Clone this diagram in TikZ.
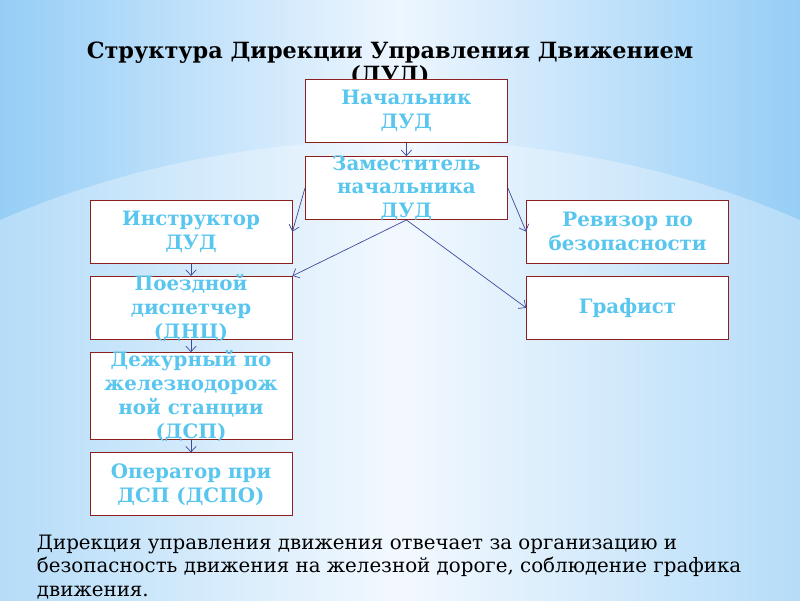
\documentclass[tikz,border=0pt]{standalone}
\usepackage{fontspec}
\setmainfont{DejaVu Serif}
\usepackage{xcolor}
\definecolor{skyedge}{RGB}{150,206,246}
\definecolor{skymid}{RGB}{238,246,255}
\definecolor{boxline}{RGB}{140,32,32}
\definecolor{boxtxt}{RGB}{88,198,238}
\definecolor{linkcol}{RGB}{64,74,156}
\usetikzlibrary{arrows.meta,positioning}

\begin{document}
\begin{tikzpicture}[scale=1.0,
	box/.style={draw=boxline, fill=white, line width=0.6pt, minimum width=5.05cm, minimum height=1.575cm},
	boxtext/.style={text=boxtxt, font=\fontsize{14.1}{16.9}\selectfont\bfseries, align=center},
	link/.style={draw=linkcol, line width=0.5pt, -{Straight Barb[length=1.4mm,width=2.6mm]}}]

	% ---------- background: bluish slide with a pale dome
	\useasboundingbox (0,0) rectangle (20,15);
	\shade[left color=skyedge, right color=skyedge, middle color=skymid] (0,0) rectangle (20,15);
	\fill[white, opacity=0.3] (10,-2.5) ellipse (19.4cm and 14cm);

	% ---------- title (second line is partly covered by the top box)
	\node[font=\fontsize{15.9}{17.2}\selectfont\bfseries, align=center] (title) at (9.75,13.4)
		{Структура Дирекции Управления Движением\\(ДУД)};

	% ---------- boxes
	\node[box, label={[boxtext]center:Начальник\\ДУД}] (nach) at (10.16,12.225) {};
	\node[box, below=0.33cm of nach, label={[boxtext]center:Заместитель\\начальника\\ДУД}] (zam) {};

	\node[box, label={[boxtext]center:Инструктор\\ДУД}] (instr) at (4.775,9.21) {};
	\node[box, below=0.31cm of instr, label={[boxtext]center:Поездной\\диспетчер\\(ДНЦ)}] (poezd) {};
	\node[box, minimum height=2.175cm, below=0.31cm of poezd,
		label={[boxtext]center:Дежурный по\\железнодорож\\ной станции\\(ДСП)}] (dezh) {};
	\node[box, below=0.31cm of dezh, label={[boxtext]center:Оператор при\\ДСП (ДСПО)}] (oper) {};

	\node[box, label={[boxtext]center:Ревизор по\\безопасности}] (rev) at (15.69,9.21) {};
	\node[box, below=0.31cm of rev, label={[boxtext]center:Графист}] (graf) {};

	% ---------- links
	\draw[link] (nach) -- (zam);
	\draw[link] (zam.west) -- (instr.east);
	\draw[link] (zam.east) -- (rev.west);
	\draw[link] (zam.south) -- (poezd.north east);
	\draw[link] (zam.south) -- (graf.west);
	\draw[link] (instr) -- (poezd);
	\draw[link] (poezd) -- (dezh);
	\draw[link] (dezh) -- (oper);

	% ---------- note under the chart
	\node[anchor=west, align=left, font=\fontsize{14.1}{16.8}\selectfont] (note) at (0.8,0.83)
		{Дирекция управления движения отвечает за организацию и\\
		безопасность движения на железной дороге, соблюдение графика\\
		движения.};
\end{tikzpicture}
\end{document}
